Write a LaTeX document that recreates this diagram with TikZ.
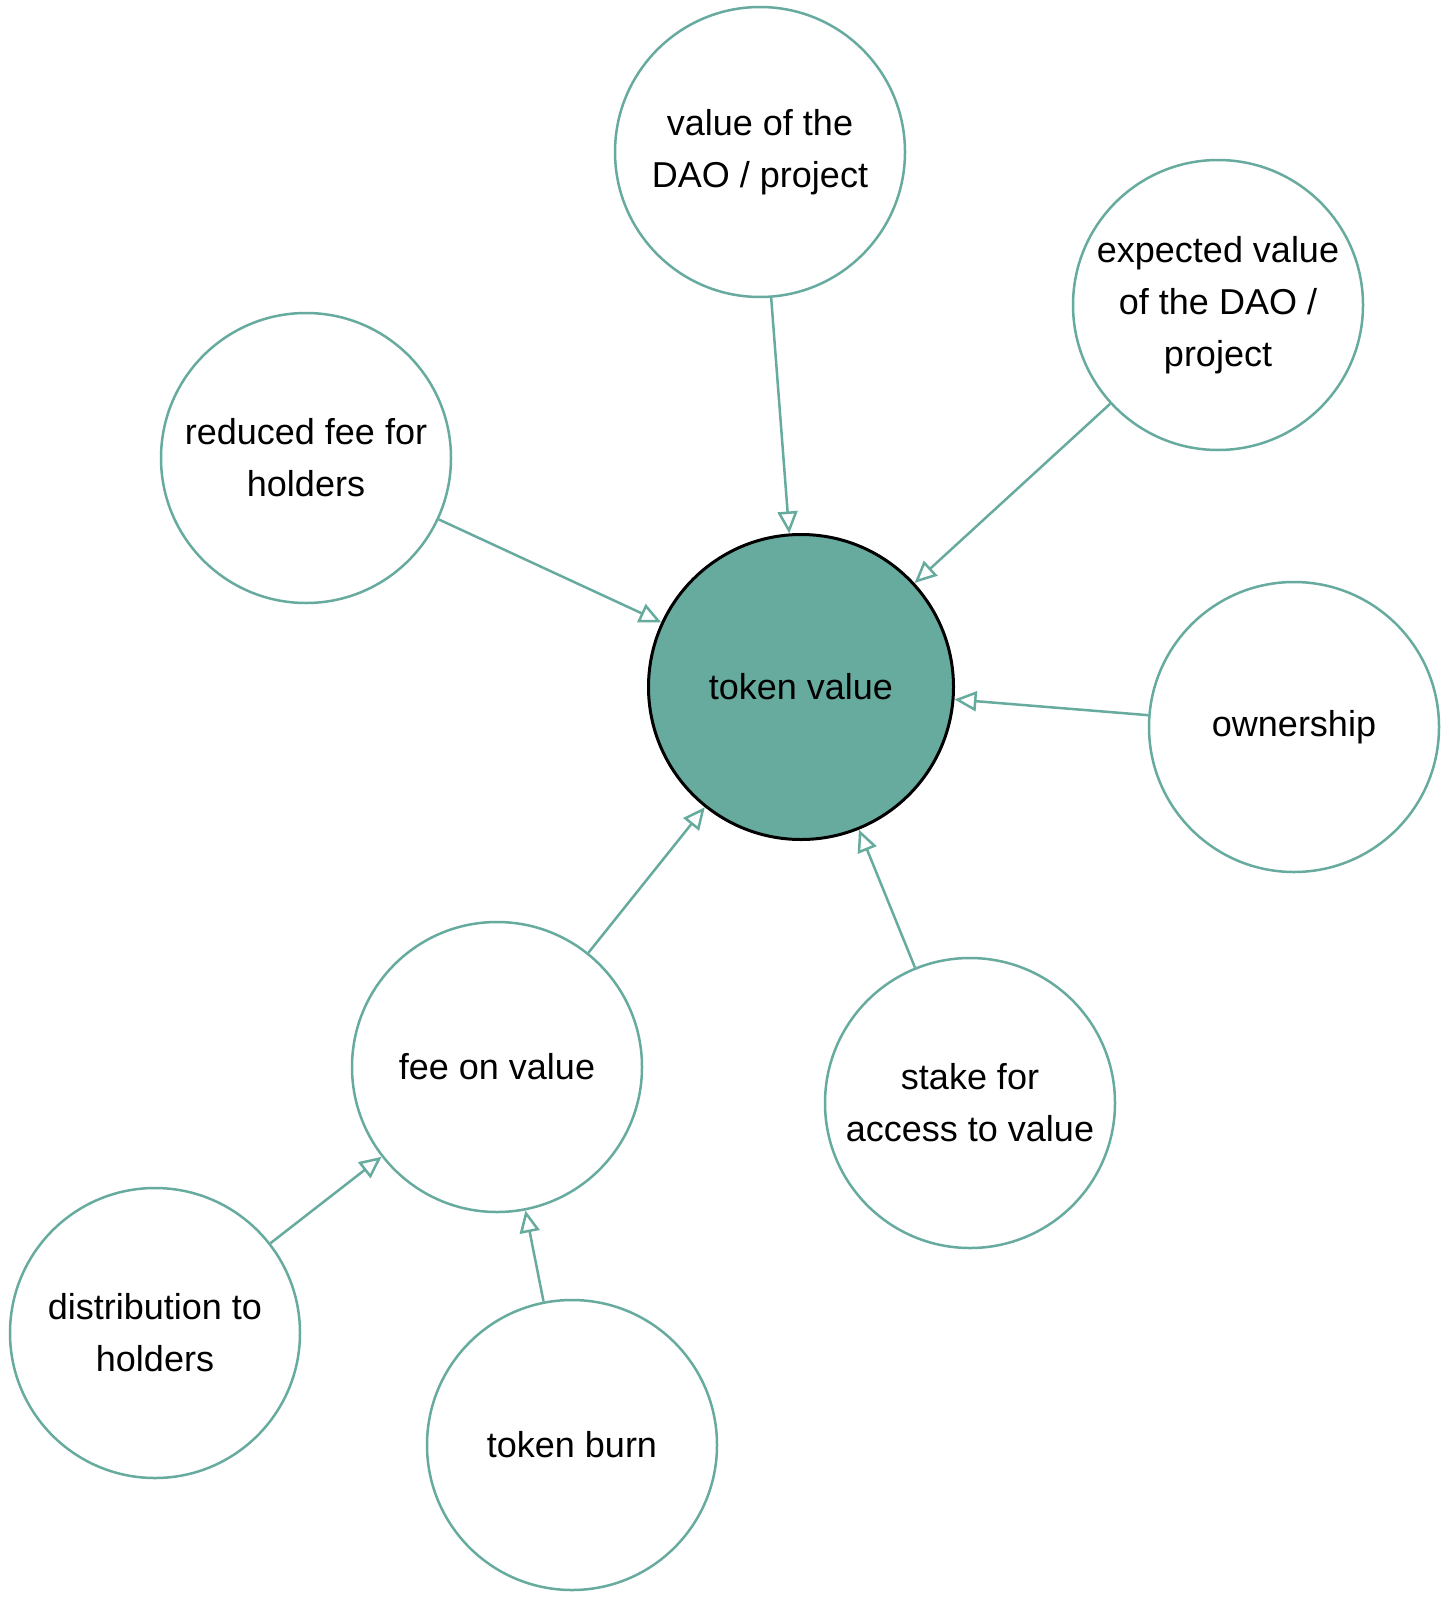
\documentclass[tikz,border=0pt]{standalone}
\usepackage{fontspec}
\setmainfont{Liberation Sans}
\usetikzlibrary{arrows.meta}
\definecolor{teal1}{HTML}{67AB9F}
\tikzset{
  bub/.style={circle,draw=teal1,line width=2.5pt,minimum size=290pt,inner sep=0pt,align=center,font=\fontsize{36}{52}\selectfont,text=black},
  link/.style={draw=teal1,line width=2.5pt,-{Triangle[open,length=22pt,width=20pt]}}
}
\begin{document}
\begin{tikzpicture}[x=1pt,y=-1pt]
\useasboundingbox (0,0) rectangle (1448,1600);
\node[bub] (v) at (760,152) {value of the\\DAO / project};
\node[bub] (e) at (1218,305) {expected value\\of the DAO /\\project};
\node[bub] (r) at (306,458) {reduced fee for\\holders};
\node[bub,fill=teal1,draw=black,line width=3pt,minimum size=305pt] (t) at (801,687) {token value};
\node[bub] (o) at (1294,727) {ownership};
\node[bub] (f) at (497,1067) {fee on value};
\node[bub] (s) at (970,1103) {stake for\\access to value};
\node[bub] (d) at (155,1333) {distribution to\\holders};
\node[bub] (b) at (572,1445) {token burn};
\draw[link] (v) -- (t);
\draw[link] (e) -- (t);
\draw[link] (r) -- (t);
\draw[link] (o) -- (t);
\draw[link] (f) -- (t);
\draw[link] (s) -- (t);
\draw[link] (d) -- (f);
\draw[link] (b) -- (f);
\end{tikzpicture}
\end{document}
